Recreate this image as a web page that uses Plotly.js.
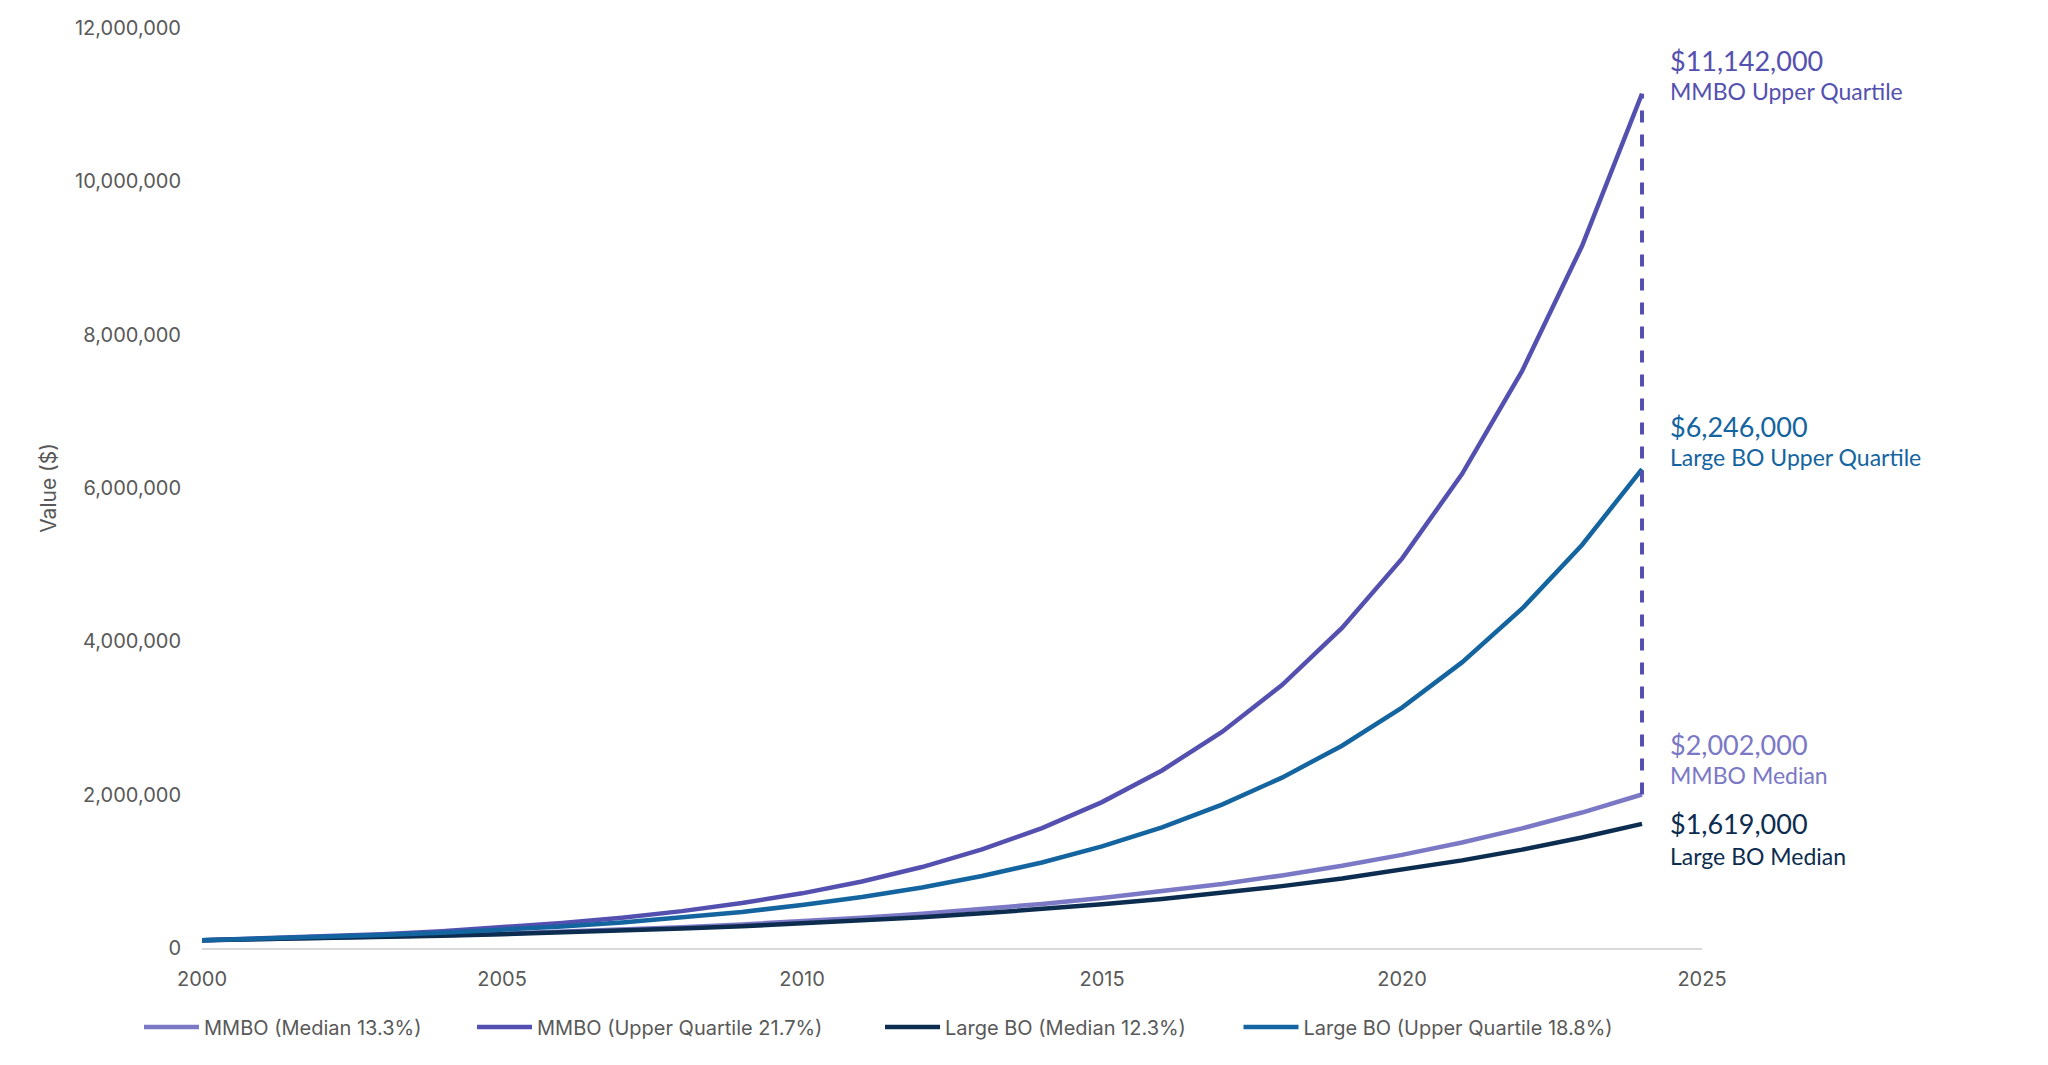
<!DOCTYPE html>
<html>
<head>
<meta charset="utf-8">
<script src="https://cdn.plot.ly/plotly-3.0.1.min.js"></script>
<style>
  html, body { margin: 0; padding: 0; background: #fff; }
  #chart { width: 2048px; height: 1065px; }
</style>
</head>
<body>
<div id="chart"></div>
<script>
// years on the x axis
var years = [2000, 2001, 2002, 2003, 2004, 2005, 2006, 2007, 2008, 2009, 2010, 2011, 2012,
  2013, 2014, 2015, 2016, 2017, 2018, 2019, 2020, 2021, 2022, 2023, 2024];

// value of $100,000 over time
var mmboMedian = [100000, 113000, 128000, 145000, 165000, 187000, 212000, 240000, 272000,
  308000, 349000, 395000, 447000, 507000, 574000, 651000, 737000, 835000, 947000,
  1072000, 1215000, 1377000, 1560000, 1767000, 2002000];
var mmboUpper = [100000, 122000, 148000, 180000, 219000, 267000, 325000, 395000, 481000,
  586000, 713000, 867000, 1056000, 1285000, 1563000, 1903000, 2316000, 2818000, 3430000,
  4174000, 5079000, 6182000, 7523000, 9156000, 11142000];
var largeMedian = [100000, 112000, 126000, 142000, 159000, 179000, 201000, 225000, 253000,
  284000, 319000, 358000, 402000, 452000, 507000, 570000, 640000, 719000, 807000,
  906000, 1018000, 1143000, 1283000, 1441000, 1619000];
var largeUpper = [100000, 119000, 141000, 168000, 199000, 237000, 281000, 334000, 397000,
  471000, 560000, 665000, 790000, 939000, 1115000, 1325000, 1574000, 1870000, 2222000,
  2639000, 3136000, 3725000, 4425000, 5257000, 6246000];

var seriesNames = ["MMBO (Median 13.3%)", "MMBO (Upper Quartile 21.7%)",
  "Large BO (Median 12.3%)", "Large BO (Upper Quartile 18.8%)"];
var endLabels = ["MMBO Median", "MMBO Upper Quartile", "Large BO Median", "Large BO Upper Quartile"];
var colors = ["#7b78c6", "#5450b0", "#0c2d4f", "#14649f"];

var yTicks = [0, 2000000, 4000000, 6000000, 8000000, 10000000, 12000000];

var allSeries = [mmboMedian, mmboUpper, largeMedian, largeUpper];
var last = years.length - 1;
var legendIds = ["legend", "legend2", "legend3", "legend4"];

var traces = allSeries.map(function (s, i) {
  return {
    x: years,
    y: s,
    type: "scatter",
    mode: "lines",
    name: seriesNames[i],
    legend: legendIds[i],
    line: { color: colors[i], width: 4.5 },
  };
});

function money(v) {
  return "$" + Math.round(v / 1000).toLocaleString("en-US") + ",000";
}

// value + caption next to the end of each line (pixel offsets only)
var valueShift = [50, 33, 0, 43];
var captionShift = [20, 3, -32, 12];
var annotations = [];
allSeries.forEach(function (s, i) {
  annotations.push({
    x: years[last], y: s[last], xref: "x", yref: "y",
    text: money(s[last]), showarrow: false,
    xanchor: "left", yanchor: "middle", xshift: 26, yshift: valueShift[i],
    font: { family: "Lato, sans-serif", size: 27, color: colors[i] },
  });
  annotations.push({
    x: years[last], y: s[last], xref: "x", yref: "y",
    text: endLabels[i], showarrow: false,
    xanchor: "left", yanchor: "middle", xshift: 26, yshift: captionShift[i],
    font: { family: "Lato, sans-serif", size: 23, color: colors[i] },
  });
});

function legendBox(xpos) {
  return {
    orientation: "h",
    x: xpos,
    xanchor: "left",
    y: -0.086,
    yanchor: "middle",
    itemwidth: 55,
    bgcolor: "rgba(0,0,0,0)",
    font: { family: "Inter, sans-serif", size: 20, color: "#595959" },
  };
}

var layout = {
  width: 2048,
  height: 1065,
  paper_bgcolor: "#ffffff",
  plot_bgcolor: "#ffffff",
  margin: { l: 202, r: 346, t: 28, b: 117 },
  font: { family: "Inter, sans-serif", size: 20, color: "#595959" },
  showlegend: true,
  legend: legendBox(-0.042),
  legend2: legendBox(0.180),
  legend3: legendBox(0.452),
  legend4: legendBox(0.691),
  xaxis: {
    range: [2000, 2025],
    tickvals: [2000, 2005, 2010, 2015, 2020, 2025],
    showgrid: false,
    zeroline: false,
    showline: true,
    linecolor: "#d9d9d9",
    linewidth: 2,
    ticks: "",
    ticklabelstandoff: 12,
    tickfont: { size: 20, color: "#595959" },
  },
  yaxis: {
    range: [0, 12000000],
    tickvals: yTicks,
    tickformat: ",",
    showgrid: false,
    zeroline: false,
    showline: false,
    ticks: "",
    ticklabelstandoff: 20,
    tickfont: { size: 20, color: "#595959" },
    title: {
      text: "Value ($)",
      font: { size: 21, color: "#595959" },
      standoff: 12,
    },
  },
  shapes: [
    {
      type: "line",
      xref: "x", yref: "y",
      x0: years[last], x1: years[last],
      y0: mmboMedian[last], y1: mmboUpper[last],
      line: { color: colors[1], width: 4, dash: "dash" },
    },
  ],
  annotations: annotations,
};

Plotly.newPlot("chart", traces, layout, { displayModeBar: false });
</script>
</body>
</html>
